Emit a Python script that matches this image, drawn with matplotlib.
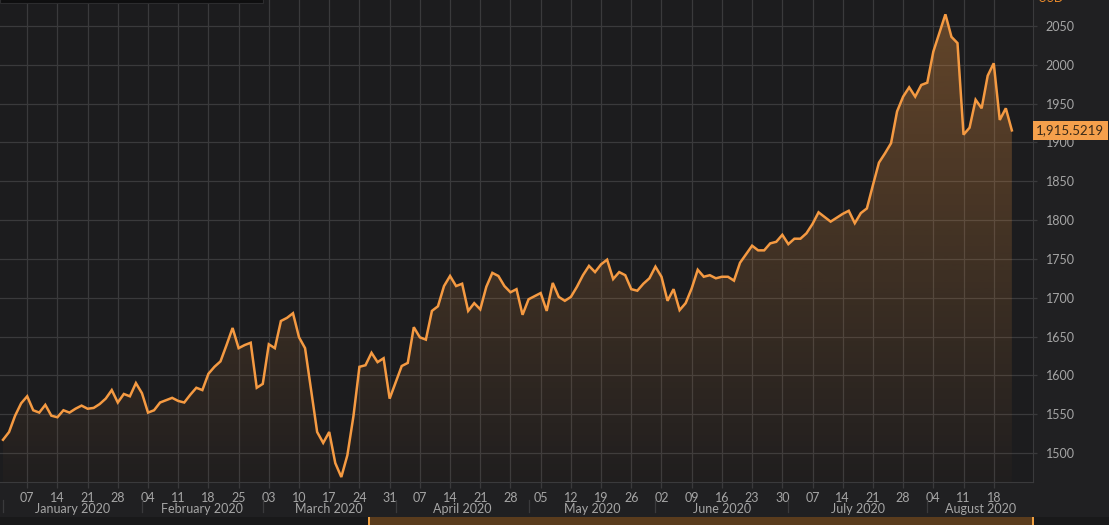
"""
Gold spot price (USD) chart, Jan - Aug 2020, dark terminal style.
"""

import numpy as np
import pandas as pd
import matplotlib
matplotlib.use('Agg')
import matplotlib.pyplot as plt
import matplotlib.transforms as mtransforms
from matplotlib.patches import Rectangle

# Business-day closes
start_date = '2020-01-01'
end_date = '2020-08-21'
prices = [
    1517, 1527, 1548, 1564, 1573, 1555, 1552, 1562, 1548, 1546,
    1555, 1552, 1557, 1561, 1557, 1558, 1563, 1570, 1581, 1565,
    1576, 1573, 1590, 1577, 1552, 1555, 1565, 1568, 1571, 1567,
    1565, 1575, 1584, 1581, 1602, 1611, 1618, 1639, 1661, 1635,
    1639, 1642, 1584, 1589, 1640, 1635, 1670, 1674, 1680, 1649,
    1635, 1581, 1527, 1513, 1527, 1487, 1469, 1497, 1547, 1611,
    1613, 1629, 1617, 1622, 1570, 1591, 1612, 1616, 1662, 1649,
    1646, 1683, 1689, 1715, 1728, 1715, 1718, 1683, 1693, 1685,
    1714, 1732, 1728, 1715, 1707, 1711, 1678, 1698, 1702, 1706,
    1683, 1719, 1701, 1696, 1701, 1714, 1729, 1741, 1733, 1743,
    1749, 1724, 1733, 1729, 1711, 1709, 1718, 1725, 1740, 1727,
    1696, 1711, 1684, 1693, 1712, 1736, 1727, 1729, 1725, 1727,
    1727, 1722, 1745, 1756, 1767, 1761, 1761, 1770, 1772, 1781,
    1769, 1776, 1776, 1783, 1795, 1810, 1804, 1798, 1803, 1808,
    1812, 1796, 1809, 1815, 1845, 1874, 1886, 1899, 1940, 1959,
    1971, 1959, 1974, 1977, 2017, 2041, 2065, 2036, 2028, 1910,
    1919, 1955, 1944, 1986, 2002, 1929, 1944, 1915.5219,
]
y_ticks = [1500, 1550, 1600, 1650, 1700, 1750, 1800, 1850, 1900, 1950, 2000, 2050]
last_label = '1,915.5219'
currency = 'USD'

# Colours
BG = '#1c1c1e'
FIG_BG = '#202022'
GRID = '#3a3a3c'
LINE = '#f59a42'
TEXT = '#a6a6a6'

plt.rcParams['font.family'] = ['Lato', 'DejaVu Sans']

dates = pd.bdate_range(start_date, end_date)
x = np.arange(len(dates))
y = np.array(prices, dtype=float)

W, H = 1109, 525
fig = plt.figure(figsize=(W / 100, H / 100), dpi=100, facecolor=FIG_BG)
ax = fig.add_axes([0, 43 / H, 1033 / W, 1 - 43 / H], facecolor=BG)

xlim = (-0.5, 170.5)
ylim = (1462.6, 2083.5)
ax.set_xlim(*xlim)
ax.set_ylim(*ylim)

# Gradient fill under the line
grad = np.linspace(0.02, 0.34, 256).reshape(-1, 1)
rgba = np.zeros((256, 1, 4))
rgba[..., 0], rgba[..., 1], rgba[..., 2] = 0.96, 0.60, 0.26
rgba[..., 3] = grad
poly = ax.fill_between(x, y, ylim[0], color='none', lw=0)
img = ax.imshow(rgba, extent=[xlim[0], xlim[1], ylim[0], ylim[1]],
                origin='lower', aspect='auto', zorder=1)
img.set_clip_path(poly.get_paths()[0], transform=ax.transData)
ax.plot(x, y, color=LINE, lw=1.8, zorder=3, solid_joinstyle='miter')

# Weekly ticks on Tuesdays
tues = np.where(dates.weekday == 1)[0]
ax.set_xticks(tues)
ax.set_xticklabels([d.strftime('%d') for d in dates[tues]])
ax.set_yticks(y_ticks)
ax.yaxis.tick_right()
ax.grid(True, color=GRID, lw=0.9)
ax.set_axisbelow(True)
ax.tick_params(axis='x', colors=GRID, labelcolor=TEXT, length=4, width=0.9,
               pad=3, labelsize=9)
ax.tick_params(axis='y', colors=GRID, labelcolor=TEXT, length=3, width=0.9,
               pad=6, labelsize=9)
for side in ['top', 'left']:
    ax.spines[side].set_visible(False)
for side in ['right', 'bottom']:
    ax.spines[side].set_color(GRID)

# Month separators and labels
trans = mtransforms.blended_transform_factory(ax.transData, ax.transAxes)
month_start = [i for i in range(len(dates)) if i == 0 or dates[i].month != dates[i - 1].month]
bounds = month_start + [xlim[1]]
for k, s in enumerate(month_start):
    ax.plot([s, s], [-0.038, -0.063], color=GRID, lw=0.9, transform=trans, clip_on=False)
    centre = (s + bounds[k + 1]) / 2
    ax.text(centre, -0.055, dates[s].strftime('%B %Y'), transform=trans,
            ha='center', va='center', color=TEXT, fontsize=9)

# Last price marker and currency
ax.text(1.003, y[-1], last_label, transform=mtransforms.blended_transform_factory(ax.transAxes, ax.transData),
        ha='left', va='center', color='#3a2a18', fontsize=9.5,
        bbox=dict(boxstyle='square,pad=0.25', fc='#f5a04c', ec='none'))
ax.annotate(currency, xy=(1.0, 1.0), xycoords='axes fraction', xytext=(5, 2),
            textcoords='offset pixels', ha='left', va='center', color='#e8892b', fontsize=9,
            annotation_clip=False)

# Tooltip box edge at top left
fig.patches.append(Rectangle((0, 1 - 3 / H), 263 / W, 4 / H, transform=fig.transFigure,
                             fc='#0e0e0f', ec='#2c2c2e', lw=0.8))

# Navigator strip at the bottom
fig.patches.append(Rectangle((0, 0), 1, 8 / H, transform=fig.transFigure, fc='#19191a', ec='none'))
fig.patches.append(Rectangle((368 / W, 0), (1033 - 368) / W, 8 / H, transform=fig.transFigure,
                             fc='#5a3c1d', ec='none'))
for px in [368, 1032]:
    fig.patches.append(Rectangle((px / W, 0), 2 / W, 8 / H, transform=fig.transFigure,
                                 fc='#f0a040', ec='none'))

fig.savefig('out.png', dpi=100, facecolor=FIG_BG)
